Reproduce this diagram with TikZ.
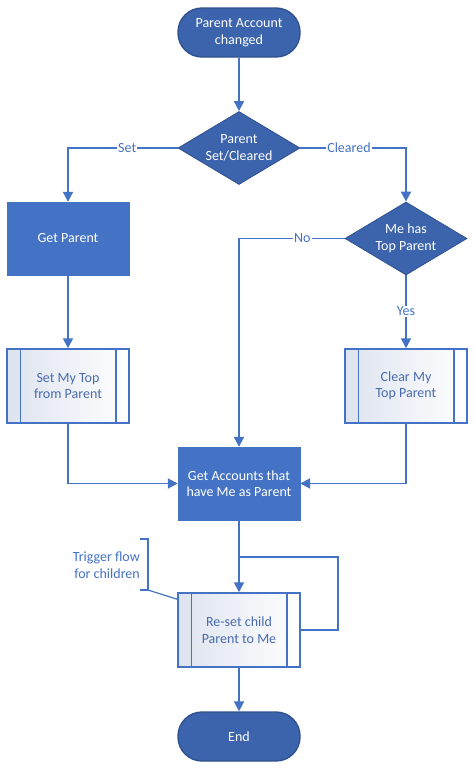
\documentclass[tikz,border=0pt]{standalone}
\usepackage{fontspec}
\setmainfont{Carlito}
\usetikzlibrary{shapes.geometric}
\usetikzlibrary{arrows.meta}
\usetikzlibrary{calc}
\definecolor{flowblue}{HTML}{4472C4}
\definecolor{darkblue}{HTML}{3C64AD}
\definecolor{edgeblue}{HTML}{2F528F}
\definecolor{subshade}{HTML}{DDE3EF}
\definecolor{subtext}{HTML}{4A6BAF}

\begin{document}
\begin{tikzpicture}[x=1pt, y=1pt]
  \tikzstyle{flowfont} = [font=\fontsize{14}{16.5}\selectfont, align=center, inner sep=0pt]
  \tikzstyle{terminal} = [flowfont, draw=edgeblue, line width=1.4pt, fill=darkblue, text=white, rounded corners=24pt, minimum width=122pt, minimum height=49pt]
  \tikzstyle{decision} = [flowfont, diamond, aspect=1.67, draw=edgeblue, line width=0.8pt, fill=darkblue, text=white, minimum width=122pt, minimum height=73pt]
  \tikzstyle{process} = [flowfont, draw=flowblue, fill=flowblue, text=white, minimum width=122pt, minimum height=73pt]
  \tikzstyle{subproc} = [flowfont, draw=flowblue, line width=1.5pt, left color=subshade, right color=white, text=subtext, minimum width=122pt, minimum height=74pt]
  \tikzstyle{flow} = [draw=flowblue, line width=1.9pt, >={Triangle[length=10pt, width=10pt]}]
  \tikzstyle{flowlabel} = [font=\fontsize{14}{16.5}\selectfont, fill=white, text=flowblue, inner sep=1pt]
  \useasboundingbox (0,0) rectangle (474,-769);

  \node[terminal] (start) at (239,-32.5) {Parent Account\\changed};
  \node[decision] (setcleared) at (239,-148) {Parent\\Set/Cleared};
  \node[process] (getparent) at (68,-238.5) {Get Parent};
  \node[decision] (hastop) at (406,-238.5) {Me has\\Top Parent};
  \node[subproc] (setmytop) at (68,-386) {Set My Top\\from Parent};
  \node[subproc] (cleartop) at (406,-386) {Clear My\\Top Parent};
  \node[process] (getaccounts) at (239,-483.5) {Get Accounts that\\have Me as Parent};
  \node[subproc] (resetchild) at (239,-630) {Re-set child\\Parent to Me};
  \node[terminal] (stop) at (239,-736.5) {End};

  \foreach \sub in {setmytop, cleartop, resetchild} {
    \draw[flowblue, line width=1.5pt] ([xshift=14pt]\sub.north west) -- ([xshift=14pt]\sub.south west);
    \draw[flowblue, line width=1.5pt] ([xshift=-14pt]\sub.north east) -- ([xshift=-14pt]\sub.south east);
  }

  \draw[flow, ->] (start) -- (setcleared);
  \draw[flow, ->] (setcleared.west) -| node[flowlabel, pos=0.23] (setlabel) {Set} (getparent.north);
  \draw[flow, ->] (setcleared.east) -| node[flowlabel, pos=0.23] (clearedlabel) {Cleared} (hastop.north);
  \draw[flow, ->] (hastop.west) -| node[flowlabel, pos=0.2] (nolabel) {No} (getaccounts.north);
  \draw[flow, ->] (hastop.south) -- node[flowlabel, pos=0.49] (yeslabel) {Yes} (cleartop.north);
  \draw[flow, ->] (getparent) -- (setmytop);
  \draw[flow, ->] (setmytop.south) |- (getaccounts.west);
  \draw[flow, ->] (cleartop.south) |- (getaccounts.east);
  \draw[flow, ->] (getaccounts) -- (resetchild);
  \draw[flow, ->] (resetchild) -- (stop);

  \coordinate (loopin) at (239,-557);
  \draw[flow] (resetchild.east) -- ++(37,0) |- (loopin);

  \node[font=\fontsize{14}{16.5}\selectfont, text=flowblue, align=right, anchor=east, inner sep=0pt] (trigger) at (140,-565) {Trigger flow\\for children};
  \coordinate (bracetop) at (148,-539);
  \coordinate (bracebot) at (148,-590);
  \draw[flowblue, line width=1.2pt] ([xshift=-8pt]bracetop) -- (bracetop) -- (bracebot) -- ([xshift=-8pt]bracebot);
  \draw[flowblue, line width=1.2pt] (bracebot) -- ([yshift=-7pt]resetchild.north west);
\end{tikzpicture}
\end{document}
